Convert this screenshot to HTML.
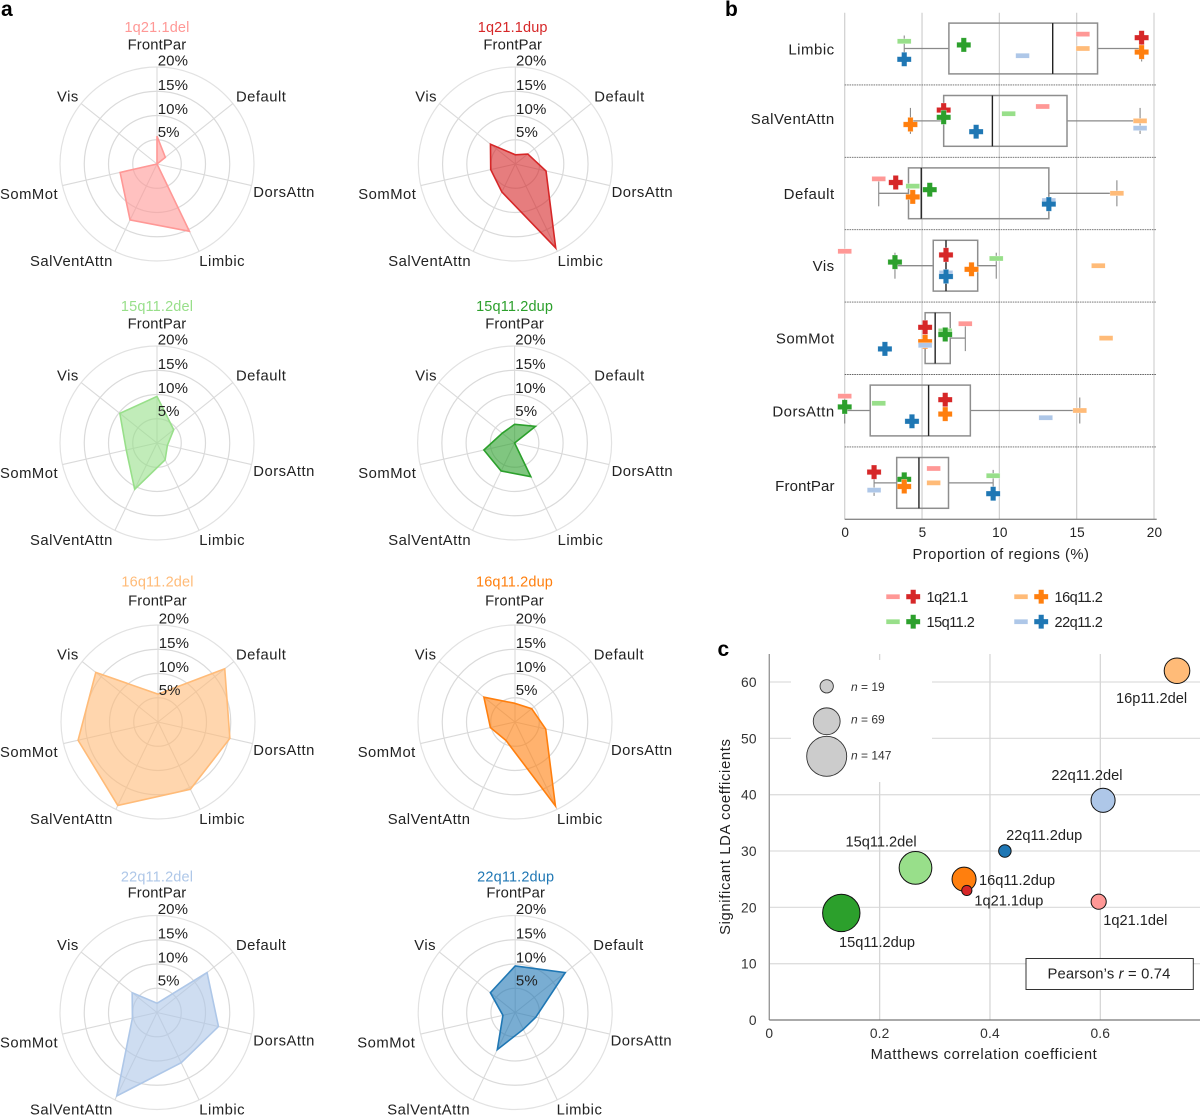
<!DOCTYPE html>
<html lang="en">
<head>
<meta charset="utf-8">
<title>CNV radar, box and bubble charts</title>
<style>
  html, body { margin: 0; padding: 0; background: #fff; }
  svg { display: block; font-family: "Liberation Sans", sans-serif; fill: #222; }
  text { letter-spacing: 0.15px; }
  .word { letter-spacing: 0.5px; }
  .tight { letter-spacing: -0.5px; }
  .flat { letter-spacing: 0; }
</style>
</head>
<body>
<svg id="figure" width="1200" height="1115" viewBox="0 0 1200 1115" xmlns="http://www.w3.org/2000/svg"></svg>
<script>
// ---------- shared data ----------
const networks = ['FrontPar', 'Default', 'DorsAttn', 'Limbic', 'SalVentAttn', 'SomMot', 'Vis'];
const values1q21del = [5.75, 2.2, 0, 15.4, 12.8, 7.8, 0];
const values1q21dup = [1.9, 3.3, 6.5, 19.2, 6.4, 5.2, 6.55];
const values15q11del = [9.6, 4.4, 2.2, 3.85, 10.6, 6.5, 9.8];
const values15q11dup = [3.85, 5.5, 0, 7.7, 6.4, 6.5, 3.25];
const values16q11del = [5.75, 17.6, 15.2, 15.4, 19.1, 16.9, 16.4];
const values16q11dup = [3.85, 4.4, 6.5, 19.2, 4.25, 5.2, 8.2];
const values22q11del = [1.9, 13.2, 13, 11.5, 19.1, 5.2, 6.55];
const values22q11dup = [9.6, 13.2, 4.35, 3.85, 8.5, 2.6, 6.55];

const genotypeNames = ['1q21.1del', '1q21.1dup', '15q11.2del', '15q11.2dup', '16q11.2del', '16q11.2dup', '22q11.2del', '22q11.2dup'];
const radialTicks = [5, 10, 15, 20];
const boxRowOrder = ['Limbic', 'SalVentAttn', 'Default', 'Vis', 'SomMot', 'DorsAttn', 'FrontPar'];
const boxAxisTicks = [0, 5, 10, 15, 20];
const legendGroups = ['1q21.1', '16q11.2', '15q11.2', '22q11.2'];

const bubbleNames = ['16p11.2del', '22q11.2del', '22q11.2dup', '15q11.2del', '15q11.2dup', '16q11.2dup', '1q21.1dup', '1q21.1del'];
const bubbleMcc = [0.739, 0.605, 0.427, 0.265, 0.1305, 0.353, 0.358, 0.597];
const bubbleCoefficients = [62, 39, 30, 27, 19, 25, 23, 21];
const bubbleN = [63, 56, 17, 100, 129, 56, 12, 24];
const sizeLegendN = [19, 69, 147];
const scatterXTicks = [0, 0.2, 0.4, 0.6];
const scatterYTicks = [0, 10, 20, 30, 40, 50, 60];

// ---------- styling ----------
const seriesValues = [values1q21del, values1q21dup, values15q11del, values15q11dup, values16q11del, values16q11dup, values22q11del, values22q11dup];
const palette = ['#ff9896', '#d62728', '#98df8a', '#2ca02c', '#ffbb78', '#ff7f0e', '#aec7e8', '#1f77b4'];
const bubblePalette = ['#ffbb78', '#aec7e8', '#1f77b4', '#98df8a', '#2ca02c', '#ff7f0e', '#d62728', '#ff9896'];

const svg = document.getElementById('figure');
const NS = 'http://www.w3.org/2000/svg';

function make(tag, attrs, parent) {
  const node = document.createElementNS(NS, tag);
  for (const k in attrs) node.setAttribute(k, attrs[k]);
  (parent || svg).appendChild(node);
  return node;
}
function label(content, x, y, size, anchor, fill, parent) {
  const node = make('text', { x: x, y: y, 'font-size': size, 'text-anchor': anchor || 'start', fill: fill || '#222' }, parent);
  node.textContent = content;
  return node;
}
function slug(s) { return s.toLowerCase().replace(/[^a-z0-9]+/g, '-'); }
function wordClass(n) { return n === 'FrontPar' ? '' : 'word'; }

// ---------- panel letters ----------
[['a', 1, 16], ['b', 725, 16], ['c', 717.5, 656]].forEach(function (p) {
  const letter = label(p[0], p[1], p[2], 21, 'start', '#000');
  letter.setAttribute('font-weight', '700');
  
  
});

// ---------- panel a: radars ----------
const radarCx = [157, 515.3, 157, 514.6, 158, 515, 157, 515.2];
const radarCy = [164, 164, 443, 443, 722, 722, 1012.5, 1012.5];
const radarTitleDy = [-132, -132, -132, -132, -135.5, -135.5, -131, -131];
const radarTitleDx = [0, -2.6, 0, 0, -0.5, -0.5, 0, 0.5];
const radarTopDy = [-114.7, -114.7, -114.7, -114.7, -116.7, -116.7, -115, -115];
const radarLabelShift = [0, 0, 0, 0.7, -1, -0.3, 0, -0.9];
const RADIUS = 97;
const spokeLabelDx = { Default: 79, DorsAttn: 96.3, Limbic: 42.3, SalVentAttn: -127, SomMot: -157, Vis: -100 };
const spokeLabelDy = { Default: -62.3, DorsAttn: 33, Limbic: 102, SalVentAttn: 102, SomMot: 35, Vis: -62.3 };
const tickLabelDy = { 5: -27, 10: -50, 15: -74, 20: -98.3 };

function radiusScale(v) { return v / 20 * RADIUS; }
function spokeAngle(i) { return i * 2 * Math.PI / networks.length; }

genotypeNames.forEach(function (name, g) {
  const cx = radarCx[g], cy = radarCy[g];
  const group = make('g', {});
  
  

  radialTicks.forEach(function (t) {
    const ring = make('circle', { cx: cx, cy: cy, r: radiusScale(t), fill: 'none', stroke: t === 20 ? '#e2e2e2' : '#dadada', 'stroke-width': 1.2 }, group);
    
    
  });
  networks.forEach(function (n, i) {
    const a = spokeAngle(i);
    const spoke = make('line', { x1: cx, y1: cy, x2: cx + RADIUS * Math.sin(a), y2: cy - RADIUS * Math.cos(a), stroke: '#dadada', 'stroke-width': 1.1 }, group);
    
    
  });
  const pts = seriesValues[g].map(function (v, i) {
    const a = spokeAngle(i), r = radiusScale(v);
    return (cx + r * Math.sin(a)).toFixed(2) + ',' + (cy - r * Math.cos(a)).toFixed(2);
  }).join(' ');
  const poly = make('polygon', { points: pts, fill: palette[g], 'fill-opacity': 0.6, stroke: palette[g], 'stroke-width': 1.6, 'stroke-linejoin': 'miter' }, group);
  
  

  const title = label(name, cx + radarTitleDx[g], cy + radarTitleDy[g], 14.5, 'middle', palette[g], group);
  
  
  const top = label(networks[0], cx + radarTitleDx[g], cy + radarTopDy[g], 14.8, 'middle', '#222', group);
  
  
  networks.slice(1).forEach(function (n) {
    const t = label(n, cx + radarLabelShift[g] + spokeLabelDx[n], cy + spokeLabelDy[n], 14.8, 'start', '#222', group);
    t.setAttribute('class', wordClass(n));
    
    
  });
  radialTicks.forEach(function (t) {
    const tl = label(t + '%', cx + 0.7, cy + tickLabelDy[t], 15, 'start', '#222', group);
    
    
  });
});

// ---------- panel b: box plots ----------
const bX0 = 844.7, bX20 = 1154;
function bx(v) { return bX0 + (bX20 - bX0) * v / 20; }
const ROW_TOP = 48.5, ROW_STEP = 72.4, DODGE = 3.6;
function rowY(i) { return ROW_TOP + ROW_STEP * i; }
const rowLabelDy = [5.8, 3, 5.6, 5.3, 5.4, 6, 8];

function quantile(sorted, q) {
  const p = (sorted.length - 1) * q, lo = Math.floor(p), hi = Math.ceil(p);
  return sorted[lo] + (sorted[hi] - sorted[lo]) * (p - lo);
}
function boxStats(vals) {
  const s = vals.slice().sort(function (a, b) { return a - b; });
  const q1 = quantile(s, 0.25), med = quantile(s, 0.5), q3 = quantile(s, 0.75), iqr = q3 - q1;
  const inside = s.filter(function (v) { return v >= q1 - 1.5 * iqr && v <= q3 + 1.5 * iqr; });
  return { q1: q1, med: med, q3: q3, lo: inside[0], hi: inside[inside.length - 1] };
}

function plusPath(x, y, size, arm) {
  const a = arm / 2, s = size / 2;
  return 'M' + (x - a) + ' ' + (y - s) + 'h' + arm + 'v' + (s - a) + 'h' + (s - a) + 'v' + arm + 'h' + (a - s) + 'v' + (s - a) + 'h' + (-arm) + 'v' + (a - s) + 'h' + (a - s) + 'v' + (-arm) + 'h' + (s - a) + 'z';
}
function drawDash(x, y, color, parent) {
  return make('rect', { x: x - 6.9, y: y - 2.5, width: 13.8, height: 5, fill: color, stroke: '#fff', 'stroke-width': 0.4, 'stroke-opacity': 0.7 }, parent);
}
function drawPlus(x, y, color, parent) {
  return make('path', { d: plusPath(x, y, 14.2, 5.4), fill: color, stroke: '#fff', 'stroke-width': 0.4, 'stroke-opacity': 0.7 }, parent);
}

const boxGrid = make('g', {});


boxAxisTicks.forEach(function (t) {
  const g = make('line', { x1: bx(t), x2: bx(t), y1: 12.7, y2: 519.3, stroke: t === 20 ? '#dcdcdc' : '#cfcfcf', 'stroke-width': t === 20 ? 1.5 : 1.2 }, boxGrid);
  
  
  const tl = label(String(t), bx(t) + 0.5, 537, 13.6, 'middle', '#222');
  
  
});
boxRowOrder.forEach(function (n, r) {
  if (r < boxRowOrder.length - 1) {
    const sep = make('line', { x1: bx(0), x2: 1156.7, y1: rowY(r) + 36.4, y2: rowY(r) + 36.4, stroke: '#666', 'stroke-width': 0.9, 'stroke-dasharray': '1.6 0.8' }, boxGrid);
    
    
  }
});
const bAxis = make('line', { x1: bx(0), x2: 1156.7, y1: 519.3, y2: 519.3, stroke: '#8a8a8a', 'stroke-width': 1.4 });



boxRowOrder.forEach(function (n, r) {
  const y = rowY(r), idx = networks.indexOf(n);
  const vals = seriesValues.map(function (s) { return s[idx]; });
  const st = boxStats(vals);
  const row = make('g', {});
  
  

  const rl = label(n, 834.7, y + rowLabelDy[r], 15, 'end', '#222', row);
  rl.setAttribute('class', wordClass(n));
  
  

  [[st.lo, st.q1], [st.q3, st.hi]].forEach(function (w) {
    const wl = make('line', { x1: bx(w[0]), x2: bx(w[1]), y1: y, y2: y, stroke: '#8a8a8a', 'stroke-width': 1.3 }, row);
    
    
  });
  [st.lo, st.hi].forEach(function (v) {
    const cap = make('line', { x1: bx(v), x2: bx(v), y1: y - 13, y2: y + 13, stroke: '#8a8a8a', 'stroke-width': 1.1 }, row);
    
    
  });
  const box = make('rect', { x: bx(st.q1), y: y - 25.4, width: bx(st.q3) - bx(st.q1), height: 50.8, fill: 'none', stroke: '#8e8e8e', 'stroke-width': 1.5 }, row);
  
  
  const med = make('line', { x1: bx(st.med), x2: bx(st.med), y1: y - 25.4, y2: y + 25.4, stroke: '#222', 'stroke-width': 1.4 }, row);
  
  

  vals.forEach(function (v, g) {
    const yy = y + (g - 4) * DODGE;
    if (g % 2 === 0) {
      const d = drawDash(bx(v), yy, palette[g], row);
      
      
    } else {
      const p = drawPlus(bx(v), yy, palette[g], row);
      
      
    }
  });
});
const bTitle = label('Proportion of regions (%)', 1001, 559, 14.8, 'middle', '#222');
bTitle.setAttribute('class', 'word');



// legend for panel b
const legendX = [886, 1014];
const legendY = [596.7, 621.7];
legendGroups.forEach(function (name, i) {
  const col = i % 2, line = i < 2 ? 0 : 1;
  const x = legendX[col], y = legendY[line];
  const base = genotypeNames.findIndex(function (n) { return n.indexOf(name) === 0; });
  const entry = make('g', {});
  
  
  const d = drawDash(x + 7, y, palette[base], entry);
  
  
  const p = drawPlus(x + 27.2, y, palette[base + 1], entry);
  
  
  const t = label(name, x + 40.5, y + 5.3, 14.5, 'start', '#222', entry);
  t.setAttribute('class', 'tight');
  
  
});

// ---------- panel c: bubble scatter ----------
function sx(v) { return 769.3 + v * 551.7; }
function sy(v) { return 1020 - v * 5.633; }
function bubbleRadius(n) { return 1.72 * Math.sqrt(n) - 0.85; }

scatterYTicks.forEach(function (t) {
  if (t > 0) {
    const g = make('line', { x1: 769.3, x2: 1200, y1: sy(t), y2: sy(t), stroke: '#dedede', 'stroke-width': 1.3 });
    
    
  }
  const tl = label(String(t), 756.7, sy(t) + 5, 13.8, 'end', '#333');
  
  
});
scatterXTicks.forEach(function (t) {
  if (t > 0) {
    const g = make('line', { x1: sx(t), x2: sx(t), y1: 654, y2: 1020, stroke: '#d6d6d6', 'stroke-width': 1.3 });
    
    
  }
  const tl = label(String(t), sx(t), 1038, 13.8, 'middle', '#333');
  
  
});
const yAxis = make('line', { x1: 769.3, x2: 769.3, y1: 654, y2: 1020, stroke: '#9a9a9a', 'stroke-width': 1.4 });


const xAxis = make('line', { x1: 769.3, x2: 1200, y1: 1020, y2: 1020, stroke: '#777', 'stroke-width': 1.3 });



const sizeBg = make('rect', { x: 791, y: 660, width: 141, height: 122, fill: '#fff' });



const sizeLegendCy = [686.3, 721.3, 756.3];
const sizeLegendTextY = [691, 723.5, 759.5];
sizeLegendN.forEach(function (n, i) {
  const c = make('circle', { cx: 826.7, cy: sizeLegendCy[i], r: bubbleRadius(n), fill: '#cccccc', stroke: '#333', 'stroke-width': 0.9 });
  
  
  const t = make('text', { x: 851, y: sizeLegendTextY[i], 'font-size': 12, fill: '#333' });
  t.setAttribute('class', 'flat');
  const it = make('tspan', { 'font-style': 'italic' }, t);
  it.textContent = 'n';
  const rest = make('tspan', {}, t);
  rest.textContent = ' = ' + n;
  
  
});

const bubbleLabelDx = [-61, -51.7, 1.3, -70, -2.3, 15, 7.6, 4.6];
const bubbleLabelDy = [32, -20.3, -11, -21.3, 34, 6, 15, 23.3];
bubbleNames.forEach(function (name, i) {
  const x = sx(bubbleMcc[i]), y = sy(bubbleCoefficients[i]);
  const c = make('circle', { cx: x, cy: y, r: bubbleRadius(bubbleN[i]), fill: bubblePalette[i], stroke: '#111', 'stroke-width': 1 });
  
  
});
bubbleNames.forEach(function (name, i) {
  const x = sx(bubbleMcc[i]), y = sy(bubbleCoefficients[i]);
  const t = label(name, x + bubbleLabelDx[i], y + bubbleLabelDy[i], 14.6, 'start', '#222');
  t.setAttribute('class', 'flat');
  
  
});

const pearsonBox = make('rect', { x: 1026, y: 958.5, width: 167.3, height: 31, fill: '#fff', stroke: '#333', 'stroke-width': 1 });


const pearson = make('text', { x: 1109, y: 978.5, 'font-size': 14.8, 'text-anchor': 'middle', fill: '#222' });


const p1 = make('tspan', {}, pearson);
p1.textContent = 'Pearson\u2019s ';
const p2 = make('tspan', { 'font-style': 'italic' }, pearson);
p2.textContent = 'r';
const p3 = make('tspan', {}, pearson);
p3.textContent = ' = 0.74';

const cxTitle = label('Matthews correlation coefficient', 984, 1059, 14.8, 'middle', '#222');
cxTitle.setAttribute('style', 'letter-spacing:0.62px');


const cyTitle = label('Significant LDA coefficients', 0, 0, 14.8, 'middle', '#222');
cyTitle.setAttribute('style', 'letter-spacing:0.65px');
cyTitle.setAttribute('transform', 'translate(730,836.7) rotate(-90)');


</script>
</body>
</html>
